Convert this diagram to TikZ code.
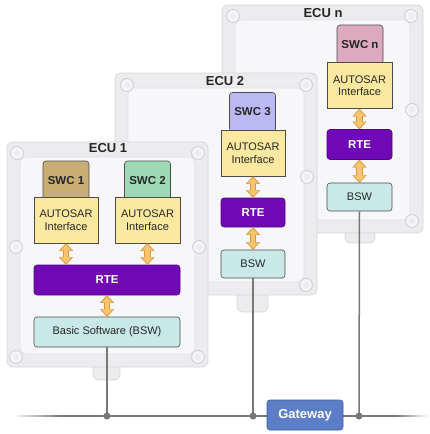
\documentclass[tikz,border=0pt]{standalone}
\usepackage{fontspec}
\setmainfont{Liberation Sans}
\usetikzlibrary{arrows.meta}

\definecolor{framefill}{HTML}{ECECEF}
\definecolor{frameedge}{HTML}{D6D6DB}
\definecolor{panelfill}{HTML}{F7F7F9}
\definecolor{paneledge}{HTML}{E1E1E5}
\definecolor{holefill}{HTML}{F5F5F7}
\definecolor{holeedge}{HTML}{CFCFD5}
\definecolor{swcone}{HTML}{C8AD74}
\definecolor{swctwo}{HTML}{9ED9B5}
\definecolor{swcthree}{HTML}{BBB8F3}
\definecolor{swcn}{HTML}{DDA9BE}
\definecolor{ifcfill}{HTML}{FCE9A0}
\definecolor{rtefill}{HTML}{7009B5}
\definecolor{rteedge}{HTML}{4E0682}
\definecolor{bswfill}{HTML}{C8E9E5}
\definecolor{arrowfill}{HTML}{F7C56B}
\definecolor{arrowedge}{HTML}{D9963A}
\definecolor{busgray}{HTML}{777777}
\definecolor{gwfill}{HTML}{5B7EC6}
\definecolor{gwedge}{HTML}{3B5A98}

\tikzset{
  fatout/.tip={Triangle[width=14pt, length=7.5pt, line width=0.1pt]},
  fatin/.tip={Triangle[width=11pt, length=5.8pt, line width=0.1pt]}
}

\begin{document}
\begin{tikzpicture}[x=1pt, y=-1pt,
  frame/.style={fill=framefill, draw=frameedge, line width=0.8pt, rounded corners=6pt},
  panel/.style={fill=panelfill, draw=paneledge, line width=0.6pt, rounded corners=7pt},
  hole/.style={fill=holefill, draw=holeedge, line width=0.9pt},
  ecutitle/.style={font=\fontsize{13}{13}\selectfont\bfseries, text=black!85},
  box/.style={draw=black!70, line width=0.6pt, text=black!85, inner sep=0pt},
  swcbox/.style={box, rounded corners=3pt, minimum width=46pt, minimum height=39pt, font=\fontsize{11.5}{12}\selectfont\bfseries},
  ifcbox/.style={box, fill=ifcfill, minimum width=65pt, minimum height=46pt, align=center, font=\fontsize{11}{12.5}\selectfont},
  rtebox/.style={box, draw=rteedge, fill=rtefill, rounded corners=3pt, minimum height=30pt, text=white, font=\fontsize{11.5}{12}\selectfont\bfseries},
  bswbox/.style={box, fill=bswfill, rounded corners=3pt, minimum height=29pt, font=\fontsize{11}{12}\selectfont},
  gwbox/.style={box, draw=gwedge, fill=gwfill, rounded corners=3pt, minimum width=76pt, minimum height=30pt, text=white, font=\fontsize{13}{13}\selectfont\bfseries},
  fat/.style={fatout-fatout, line width=6.5pt, draw=arrowedge,
    postaction={draw=arrowfill, fatin-fatin, line width=4.5pt, shorten <=1.3pt, shorten >=1.3pt}},
  wire/.style={draw=busgray, line width=1.5pt},
  tap/.style={circle, fill=busgray, inner sep=0pt, minimum size=7pt}
]
\useasboundingbox (0,0) rectangle (430,434);

% ECU n (back)
\draw[frame] (345,220) rectangle (375,243);
\draw[frame] (222,5) rectangle (423,233);
\draw[panel] (235,20) rectangle (410,220);
\foreach \hx/\hy in {233/16, 411/16, 232/110, 412/110, 232/221, 412/221}{
  \draw[hole] (\hx,\hy) circle (6.5);
  \fill[framefill] (\hx,\hy) circle (3);}
\node[ecutitle] (ecun) at (323,13) {ECU n};
\node[swcbox, fill=swcn] (swcn) at (360,44.5) {SWC n};
\node[ifcbox] (ifcn) at (359.5,85.5) {AUTOSAR\\Interface};
\node[rtebox, minimum width=65pt] (rten) at (359.5,144.5) {RTE};
\node[bswbox, minimum width=65pt, minimum height=28pt] (bswn) at (359.5,197) {BSW};
\draw[fat] (ifcn.south) -- (rten.north);
\draw[fat] (rten.south) -- (bswn.north);

% ECU 2
\draw[frame] (237,283) rectangle (268,312);
\draw[frame] (115,73) rectangle (317,295);
\draw[panel] (128,88) rectangle (304,282);
\foreach \hx/\hy in {127/85, 306/85, 125/177, 307/177, 125/285, 306/285}{
  \draw[hole] (\hx,\hy) circle (6.5);
  \fill[framefill] (\hx,\hy) circle (3);}
\node[ecutitle] (ecu2) at (225,81) {ECU 2};
\node[swcbox, fill=swcthree] (swc3) at (252.5,112) {SWC 3};
\node[ifcbox, minimum width=64pt] (ifc3) at (253,153) {AUTOSAR\\Interface};
\node[rtebox, minimum width=64pt, minimum height=29pt] (rte2) at (253,212.5) {RTE};
\node[bswbox, minimum width=64pt, minimum height=28pt] (bsw2) at (253,264) {BSW};
\draw[fat] (ifc3.south) -- (rte2.north);
\draw[fat] (rte2.south) -- (bsw2.north);

% ECU 1 (front)
\draw[frame] (93,355) rectangle (120,380);
\draw[frame] (7,142) rectangle (208,367);
\draw[panel] (20,157) rectangle (195,354);
\foreach \hx/\hy in {17/153, 198/153, 16/247, 199/247, 16/357, 198/357}{
  \draw[hole] (\hx,\hy) circle (6.5);
  \fill[framefill] (\hx,\hy) circle (3);}
\node[ecutitle] (ecu1) at (108,148) {ECU 1};
\node[swcbox, fill=swcone] (swc1) at (66,180.5) {SWC 1};
\node[ifcbox, minimum width=64pt] (ifc1) at (66,220) {AUTOSAR\\Interface};
\node[swcbox, fill=swctwo] (swc2) at (147.5,180.5) {SWC 2};
\node[ifcbox] (ifc2) at (147.5,220) {AUTOSAR\\Interface};
\node[rtebox, minimum width=146pt] (rte1) at (107,280) {RTE};
\node[bswbox, minimum width=146pt, minimum height=30pt] (bsw1) at (107,332) {Basic Software (BSW)};
\draw[fat] (ifc1.south) -- (ifc1.south |- rte1.north);
\draw[fat] (ifc2.south) -- (ifc2.south |- rte1.north);
\draw[fat] (rte1.south) -- (bsw1.north);

% bus
\coordinate (busl) at (60,416);
\coordinate (busr) at (395,416);
\shade[left color=white, right color=busgray] (12,415.25) rectangle (60,416.75);
\shade[left color=busgray, right color=white] (395,415.25) rectangle (428,416.75);
\draw[wire] (busl) -- (busr);
\coordinate (tap1) at (107,416);
\coordinate (tap2) at (253,416);
\coordinate (tapn) at (359,416);
\draw[wire] (bsw1.south) -- (tap1);
\draw[wire] (bsw2.south) -- (tap2);
\draw[wire] (bswn.south) -- (tapn);
\node[tap] (dot1) at (tap1) {};
\node[tap] (dot2) at (tap2) {};
\node[tap] (dotn) at (tapn) {};
\node[gwbox] (gateway) at (305,415) {Gateway};
\end{tikzpicture}
\end{document}
